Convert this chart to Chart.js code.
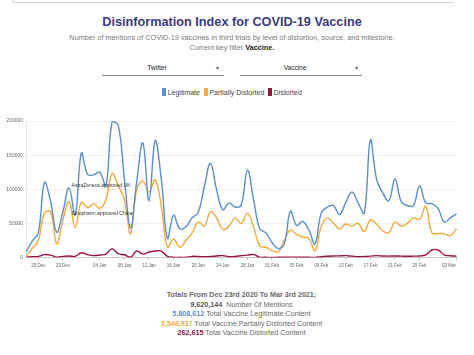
<!DOCTYPE html>
<html>
<head>
<meta charset="utf-8">
<script src="https://cdn.jsdelivr.net/npm/chart.js@4/dist/chart.umd.min.js"></script>
<style>
  html,body{margin:0;padding:0;background:#fff;}
  body{width:474px;height:355px;position:relative;overflow:hidden;font-family:"Liberation Sans",Arial,Helvetica,sans-serif;}
  .abs{position:absolute;}
  .center{left:0;width:464px;text-align:center;white-space:nowrap;}
  #frame{left:12px;top:-10px;width:441px;height:12px;border-left:1px solid #d6d6d6;border-bottom:1px solid #d6d6d6;}
  #title{top:16px;font-size:12.7px;line-height:13px;font-weight:bold;color:#3b3a87;}
  #sub{top:33px;font-size:7.3px;line-height:10px;color:#7a7a7a;}
  #sub b{color:#222;}
  .dd{font-size:6.5px;line-height:8px;color:#222;text-align:center;}
  .arrow{font-size:6px;line-height:8px;color:#666;}
  .uline{height:1px;background:#8a8a8a;}
  #legend{top:88px;font-size:7px;line-height:9px;color:#444;}
  #legend span.sw{display:inline-block;width:4px;height:8px;vertical-align:-1px;margin-right:1.5px;}
  #legend span.it{margin:0 2px;}
  #totals{left:0;width:483px;top:290px;text-align:center;font-size:7.2px;line-height:9.6px;color:#6a6a6a;white-space:nowrap;}
  #totals b{font-weight:bold;}
  #chartbox{left:0;top:110px;width:474px;height:165px;}
</style>
</head>
<body>
<div id="frame" class="abs"></div>
<div id="title" class="abs center">Disinformation Index for COVID-19 Vaccine</div>
<div id="sub" class="abs center">Number of mentions of COVID-19 vaccines in third trials by level of distortion, source, and milestone.<br>Current key filter <b>Vaccine.</b></div>

<div class="abs dd" style="left:127px;top:64px;width:60px;">Twitter</div>
<div class="abs arrow" style="left:216px;top:64px;">▾</div>
<div class="abs uline" style="left:102px;top:75px;width:122px;"></div>
<div class="abs dd" style="left:265px;top:64px;width:60px;">Vaccine</div>
<div class="abs arrow" style="left:355px;top:64px;">▾</div>
<div class="abs uline" style="left:240px;top:75px;width:122px;"></div>

<div id="legend" class="abs center"></div>

<div id="chartbox" class="abs"><canvas id="c" width="474" height="165"></canvas></div>

<div id="totals" class="abs"></div>

<script>
// ---- data ----
const categories = ['23 Dec','24 Dec','25 Dec','26 Dec','27 Dec','28 Dec','29 Dec','30 Dec','31 Dec',
 '01 Jan','02 Jan','03 Jan','04 Jan','05 Jan','06 Jan','07 Jan','08 Jan','09 Jan','10 Jan','11 Jan','12 Jan',
 '13 Jan','14 Jan','15 Jan','16 Jan','17 Jan','18 Jan','19 Jan','20 Jan','21 Jan','22 Jan','23 Jan','24 Jan',
 '25 Jan','26 Jan','27 Jan','28 Jan','29 Jan','30 Jan','31 Jan',
 '01 Feb','02 Feb','03 Feb','04 Feb','05 Feb','06 Feb','07 Feb','08 Feb','09 Feb','10 Feb','11 Feb','12 Feb',
 '13 Feb','14 Feb','15 Feb','16 Feb','17 Feb','18 Feb','19 Feb','20 Feb','21 Feb','22 Feb','23 Feb','24 Feb',
 '25 Feb','26 Feb','27 Feb','28 Feb','01 Mar','02 Mar','03 Mar'];

const legitimate = [8000,24000,36000,110000,82000,37000,67000,102000,62000,153000,
 122000,121000,125000,105000,199000,194000,115000,43000,111000,168000,
 83000,171000,115000,28000,62000,42000,45000,58000,66000,104000,
 138000,99000,70000,80000,74000,77000,128000,85000,42000,36000,
 22000,13000,20000,68000,47000,53000,40000,20000,65000,74000,
 76000,63000,81000,96000,80000,65000,172000,115000,95000,83000,
 115000,82000,76000,76000,105000,80000,79000,72000,52000,58000,64000];

const partiallyDistorted = [2000,13000,25000,65000,67000,20000,55000,82000,44000,81000,
 73000,79000,72000,85000,123000,105000,85000,35000,100000,112000,
 96000,114000,75000,15000,27000,15000,25000,36000,52000,46000,
 67000,58000,41000,46000,58000,50000,65000,45000,17000,15000,
 10000,8000,25000,40000,34000,30000,28000,10000,45000,58000,
 50000,42000,49000,46000,50000,38000,55000,49000,39000,36000,
 52000,46000,50000,58000,56000,75000,36000,35000,35000,32000,42000];

const distorted = [500,1000,1500,4200,3500,500,1700,2200,1700,7000,
 4200,2700,3700,5000,13000,5500,4000,500,9500,5000,
 8000,9500,9500,1500,300,300,300,1700,1500,1200,
 1500,2200,2700,1200,1500,2700,3500,4500,500,300,
 0,300,300,500,300,300,300,200,1200,1800,
 2200,2400,2700,2000,1200,1500,2000,2700,2200,2000,
 2200,2000,1800,2000,2200,3700,11000,11000,4000,2500,2000];

const tickLabels = ['25 Dec','29 Dec','04 Jan','08 Jan','12 Jan','16 Jan','20 Jan','24 Jan','28 Jan',
 '01 Feb','05 Feb','09 Feb','13 Feb','17 Feb','21 Feb','25 Feb','03 Mar'];

const yTicks = [0,50000,100000,150000,200000];

const seriesNames = ['Legitimate','Partially Distorted','Distorted'];
const seriesColors = ['#5b8ecf','#f5a93a','#9c1340'];

const annotations = [
  {date:'30 Dec', value:105000, text:'AstraZeneca approved UK'},
  {date:'30 Dec', value:64000, text:'Sinopharm approved China'}
];

const totalsTitle = 'Totals From Dec 23rd 2020 To Mar 3rd 2021;';
const totalNumbers = ['9,620,144','5,808,612','3,548,917','262,615'];
const totalTexts = ['&nbsp;Number Of Mentions','Total Vaccine Legitimate Content','Total Vaccine Partially Distorted Content','Total Vaccine Distorted Content'];
const totalColors = ['#555555','#5b8ecf','#f5a93a','#9c1340'];

// ---- legend & totals html ----
document.getElementById('legend').innerHTML = seriesNames.map((n,i)=>
  '<span class="it"><span class="sw" style="background:'+seriesColors[i]+'"></span>'+n+'</span>').join('');
let th = '<b>'+totalsTitle+'</b>';
for (let i=0;i<totalNumbers.length;i++){
  th += '<br><b style="color:'+totalColors[i]+'">'+totalNumbers[i]+'</b> '+totalTexts[i];
}
document.getElementById('totals').innerHTML = th;

// ---- chart ----
const annoPlugin = {
  id:'anno',
  afterDatasetsDraw(chart){
    const {ctx, scales:{x,y}} = chart;
    ctx.save();
    ctx.font = '5px "Liberation Sans", Arial, sans-serif';
    ctx.fillStyle = '#333';
    ctx.textBaseline = 'middle';
    annotations.forEach(a=>{
      const px = x.getPixelForValue(categories.indexOf(a.date));
      const py = y.getPixelForValue(a.value);
      ctx.fillText(a.text, px+2.5, py);
    });
    ctx.restore();
  }
};

const dsets = [legitimate, partiallyDistorted, distorted].map((d,i)=>({
  label: seriesNames[i],
  data: d,
  borderColor: seriesColors[i],
  backgroundColor: seriesColors[i],
  borderWidth: 1.4,
  pointRadius: 0,
  tension: 0.4,
  fill: false
}));

const lastIdx = categories.length - 1;

new Chart(document.getElementById('c'), {
  type:'line',
  data:{labels:categories, datasets:dsets},
  options:{
    responsive:false,
    animation:false,
    layout:{padding:{top:11,right:12,left:0,bottom:0}},
    plugins:{legend:{display:false}, tooltip:{enabled:false}},
    scales:{
      x:{
        type:'category',
        offset:false,
        afterFit(s){ s.height = 17.5; },
        afterBuildTicks(s){ s.ticks = s.ticks.filter(t=>tickLabels.includes(categories[t.value])); },
        grid:{display:true, drawOnChartArea:false, drawTicks:true, tickLength:2.5, color:'#c8c8c8'},
        border:{display:true, color:'#c8c8c8', width:1},
        ticks:{autoSkip:false, maxRotation:0, padding:3, color:'#666', font:{size:4.5, family:'"Liberation Sans", Arial, sans-serif'},
          callback(v){ return v === lastIdx ? categories[v] + '\u00a0'.repeat(12) : categories[v]; }}
      },
      y:{
        min:0, max:200000,
        afterFit(s){ s.width = 26; },
        afterBuildTicks(s){ s.ticks = yTicks.map(v=>({value:v})); },
        grid:{color:'#f1f1f1', drawTicks:false},
        border:{display:true, color:'#e6e6e6'},
        ticks:{padding:3, color:'#666', font:{size:5, family:'"Liberation Sans", Arial, sans-serif'},
          callback(v){ return String(v); }}
      }
    }
  },
  plugins:[annoPlugin]
});
</script>
</body>
</html>
